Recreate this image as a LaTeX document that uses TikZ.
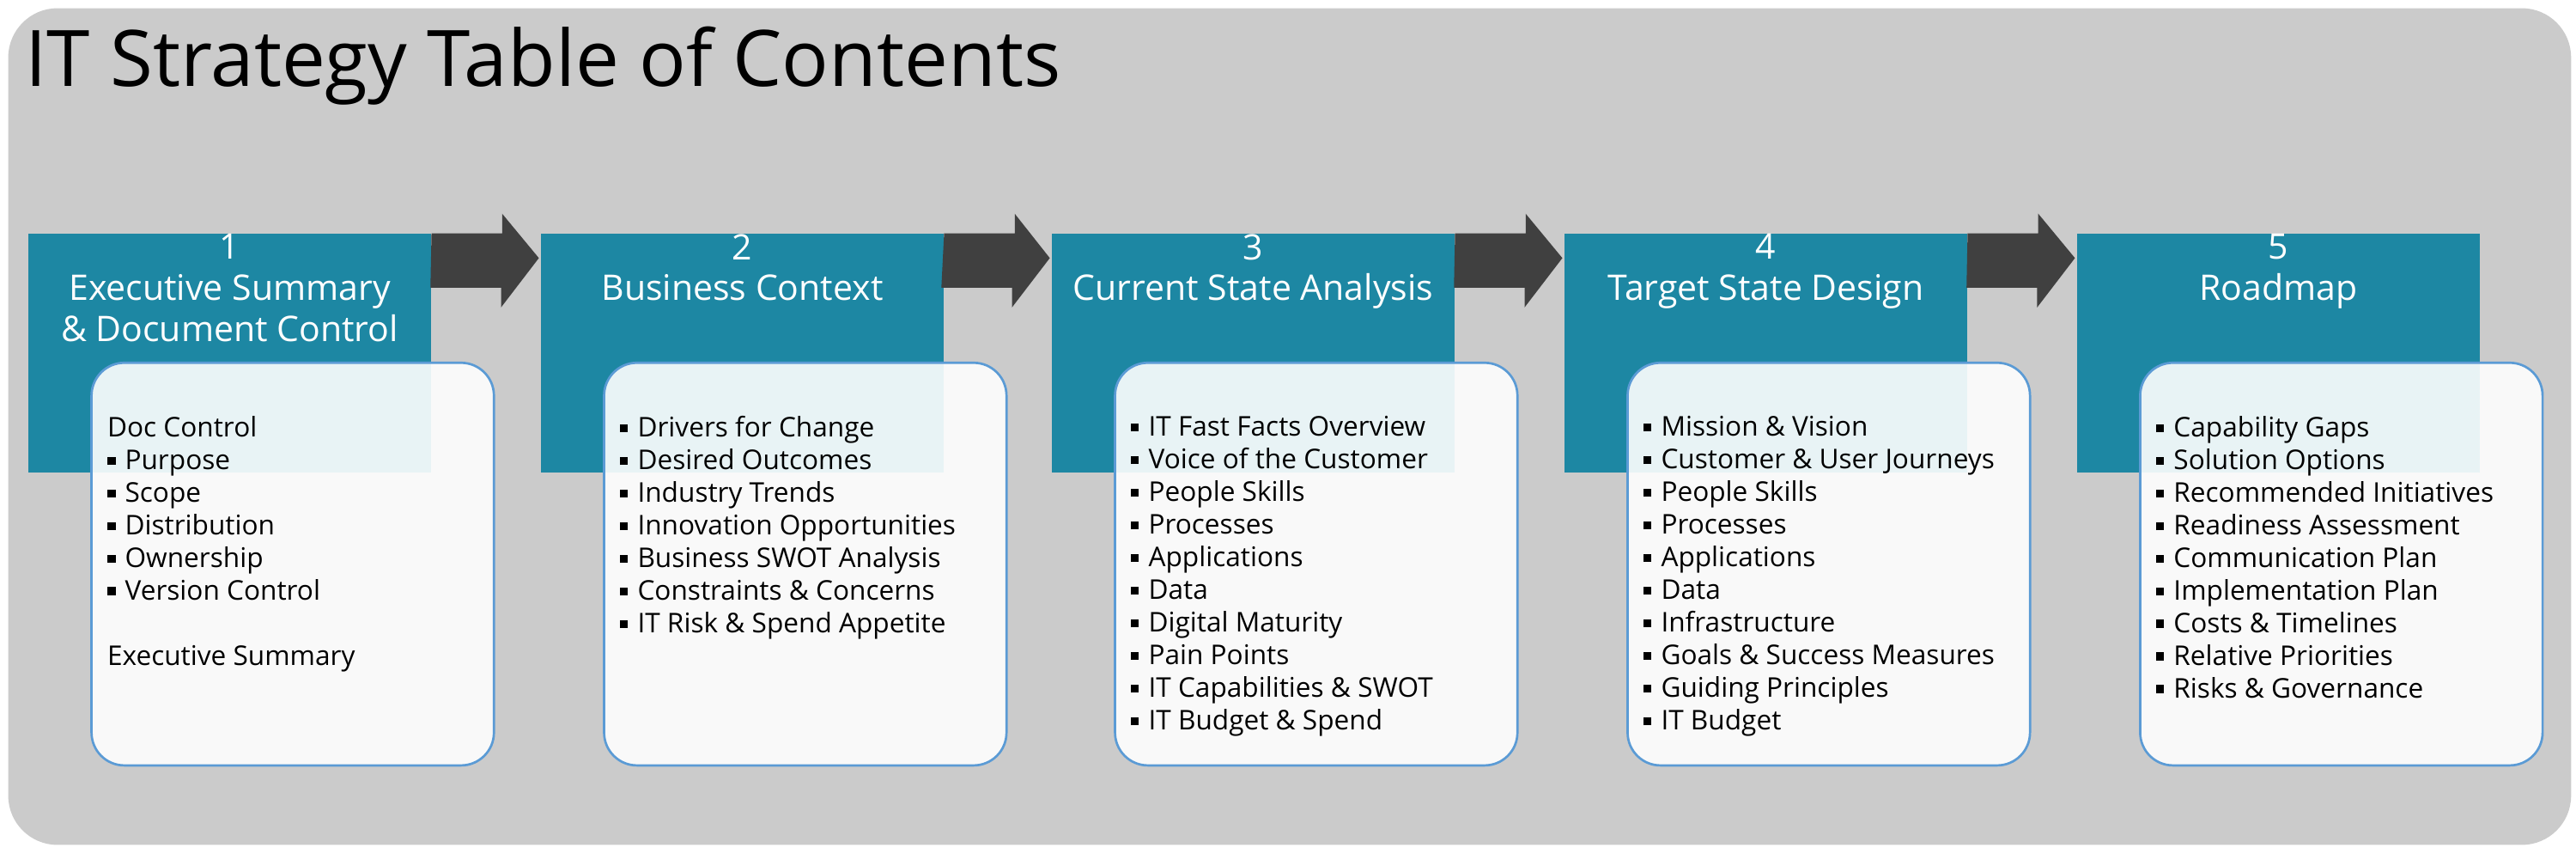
\documentclass[tikz,border=0pt]{standalone}
\usepackage{fontspec}
\setmainfont{Open Sans}
\usetikzlibrary{calc}
\definecolor{bggray}{HTML}{CBCBCB}
\definecolor{teal1}{HTML}{1D87A3}
\definecolor{arrgray}{HTML}{404040}
\definecolor{wborder}{HTML}{5B9BD5}
\newcommand{\sqb}{\raisebox{0.18em}{\rule{0.3em}{0.3em}}\hspace{0.35em}}
\tikzset{
  head/.style={fill=teal1, minimum width=4.9cm, minimum height=2.9cm, inner sep=0, anchor=north west},
  htext/.style={text=white, align=center, anchor=north, font=\fontsize{12.2}{14.2}\selectfont, inner sep=0},
  card/.style={fill=white, fill opacity=0.9, draw=wborder, line width=0.8pt, rounded corners=0.4cm,
    minimum width=4.9cm, minimum height=4.9cm, inner sep=0, anchor=north west},
  list/.style={align=left, anchor=north west, inner sep=0, font=\fontsize{9.4}{11.3}\selectfont},
  flowarrow/.style={fill=arrgray}
}
\begin{document}
\begin{tikzpicture}[x=0.02cm,y=-0.02cm]
\useasboundingbox (0,0) rectangle (1568,526.4);
\fill[bggray, rounded corners=0.6cm] (5,5) rectangle (1565,514);
\node[anchor=west, inner sep=0, font=\fontsize{27}{30}\selectfont] (title) at (15,40) {IT Strategy Table of Contents};
% headers and arrows
\foreach \i/\x in {1/17,2/329,3/640,4/952,5/1264}{
  \node[head] (h\i) at (\x,142) {};
}
\foreach \i/\j in {1/2,2/3,3/4,4/5}{
  \fill[flowarrow] (h\i.north east) -- ++(43,0) -- ++(0,-12) -- ($(h\j.north west)+(-1,15)$)
    -- ++(-23,30) -- ++(0,-12) -- ++(-43,0) -- cycle;
}
\node[htext] (t1) at (h1.north) {1\\Executive Summary\\\& Document Control};
\node[htext] (t2) at (h2.north) {2\\Business Context};
\node[htext] (t3) at (h3.north) {3\\Current State Analysis};
\node[htext] (t4) at (h4.north) {4\\Target State Design};
\node[htext] (t5) at (h5.north) {5\\Roadmap};
% cards
\foreach \i/\x in {1/55,2/367,3/678,4/990,5/1302}{
  \node[card] (w\i) at (\x,220) {};
}
\node[list] (l1) at ($(w1.north west)+(10,33)$) {Doc Control\\\sqb Purpose\\\sqb Scope\\\sqb Distribution\\\sqb Ownership\\\sqb Version Control\\[11.3pt]Executive Summary};
\node[list] (l2) at ($(w2.north west)+(10,33)$) {\sqb Drivers for Change\\\sqb Desired Outcomes\\\sqb Industry Trends\\\sqb Innovation Opportunities\\\sqb Business SWOT Analysis\\\sqb Constraints \& Concerns\\\sqb IT Risk \& Spend Appetite};
\node[list] (l3) at ($(w3.north west)+(10,33)$) {\sqb IT Fast Facts Overview\\\sqb Voice of the Customer\\\sqb People Skills\\\sqb Processes\\\sqb Applications\\\sqb Data\\\sqb Digital Maturity\\\sqb Pain Points\\\sqb IT Capabilities \& SWOT\\\sqb IT Budget \& Spend};
\node[list] (l4) at ($(w4.north west)+(10,33)$) {\sqb Mission \& Vision\\\sqb Customer \& User Journeys\\\sqb People Skills\\\sqb Processes\\\sqb Applications\\\sqb Data\\\sqb Infrastructure\\\sqb Goals \& Success Measures\\\sqb Guiding Principles\\\sqb IT Budget};
\node[list] (l5) at ($(w5.north west)+(10,33)$) {\sqb Capability Gaps\\\sqb Solution Options\\\sqb Recommended Initiatives\\\sqb Readiness Assessment\\\sqb Communication Plan\\\sqb Implementation Plan\\\sqb Costs \& Timelines\\\sqb Relative Priorities\\\sqb Risks \& Governance};
\end{tikzpicture}
\end{document}
